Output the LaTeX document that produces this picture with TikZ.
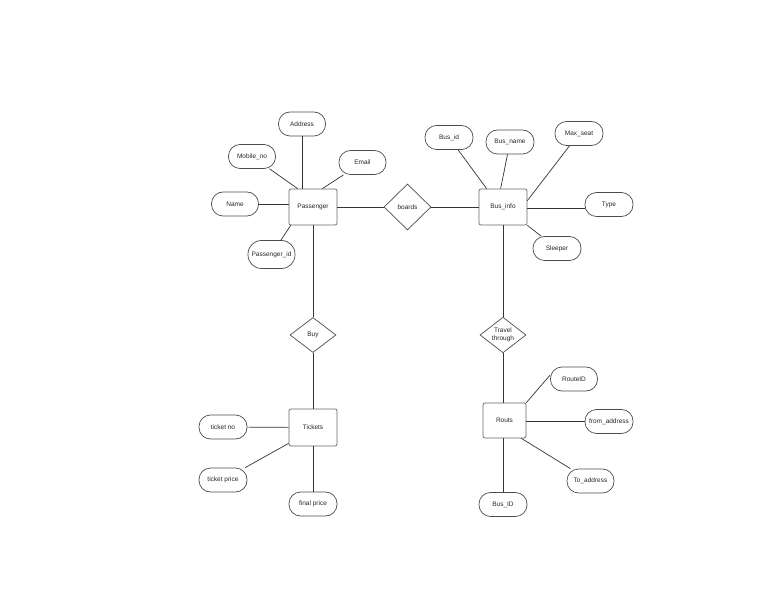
\documentclass[tikz,border=0pt]{standalone}
\usepackage{fontspec}
\setmainfont{Liberation Sans}
\usepackage{tikz}
\usetikzlibrary{shapes}

\begin{document}
\begin{tikzpicture}[x=1pt, y=-1pt, font=\fontsize{6.5}{7.5}\selectfont,
  line width=0.7pt, draw=black!80, text=black!85,
  attr/.style={draw=black!70, rectangle, rounded corners=11.5pt, minimum width=47pt, minimum height=24pt, inner sep=0pt},
  ent/.style={draw=black!60, rectangle, rounded corners=2pt, minimum width=48pt, minimum height=36pt, inner sep=0pt},
  rel/.style={draw=black!70, diamond, minimum width=46pt, minimum height=35pt, inner sep=0pt, align=center}]

\useasboundingbox (0,0) rectangle (768,593);

% passenger side
\node [ent] at (313, 207) (Pas) {Passenger};
\node [attr] at (302, 124) (Adr) {Address};
\node [attr] at (252, 156.5) (Mob) {Mobile\_no};
\node [attr] at (362.5, 162.5) (Eml) {Email};
\node [attr] at (235, 204) (Nam) {Name};
\node [attr, minimum height=28pt, rounded corners=13.5pt] at (271.5, 254.5) (Pid) {Passenger\_id};
\draw (Adr.south) -- (Adr.south |- Pas.north);
\draw (Mob) -- ([xshift=9pt]Pas.north west);
\draw (Eml) -- ([xshift=-15pt]Pas.north east);
\draw (Nam.east) -- (Nam.east -| Pas.west);
\draw (Pid) -- ([xshift=2pt]Pas.south west);

\node [rel, minimum width=47pt, minimum height=46pt] at (407.5, 207) (Brd) {boards};
\draw (Pas) -- (Brd);

% bus side
\node [ent] at (503, 207) (Bus) {Bus\_info};
\node [attr, minimum width=48pt] at (449, 137.5) (Bid) {Bus\_id};
\node [attr, minimum width=48pt] at (510, 142) (Bnm) {Bus\_name};
\node [attr, minimum width=48pt] at (579, 133.5) (Max) {Max\_seat};
\node [attr, minimum width=48pt] at (609, 204.5) (Typ) {Type};
\node [attr, minimum width=48pt] at (557, 248.5) (Slp) {Sleeper};
\draw (Brd) -- (Bus);
\draw (Bid) -- ([xshift=8pt]Bus.north west);
\draw (Bnm) -- ([xshift=22pt]Bus.north west);
\draw (Max) -- ([yshift=-12pt]Bus.north east);
\draw ([yshift=-4pt]Typ.west) -- ([yshift=-4pt]Typ.west -| Bus.east);
\draw (Slp) -- (Bus.south east);

% tickets
\node [rel] at (313, 335) (Buy) {Buy};
\node [ent, minimum height=37pt] at (313, 427.5) (Tkt) {Tickets};
\node [attr, minimum width=48pt] at (223, 427) (Tno) {ticket no};
\node [attr, minimum width=48pt] at (223, 480) (Tpr) {ticket price};
\node [attr, minimum width=48pt] at (313, 504) (Fpr) {final price};
\draw (Pas) -- (Buy);
\draw (Buy) -- (Tkt);
\draw (Tno) -- (Tkt);
\draw (Tpr) -- ([yshift=3pt]Tkt.south west);
\draw (Fpr) -- (Tkt);

% routes
\node [rel] at (503, 335) (Trv) {Travel\\through};
\node [ent, minimum width=43pt, minimum height=35pt] at (504.5, 420.5) (Rts) {Routs};
\node [attr] at (574, 379) (Rid) {RouteID};
\node [attr, minimum width=48pt] at (609, 421.5) (Fad) {from\_address};
\node [attr] at (590.5, 481) (Tad) {To\_address};
\node [attr, minimum width=48pt] at (503, 504.5) (BID) {Bus\_ID};
\draw (Bus) -- (Trv);
\draw (Trv) -- (Trv |- Rts.north);
\draw ([yshift=4pt]Rid.west) -- (Rts.north east);
\draw (Fad.west) -- (Fad.west -| Rts.east);
\draw (Tad) -- ([xshift=-5pt]Rts.south east);
\draw (BID.north) -- (BID.north |- Rts.south);

\end{tikzpicture}
\end{document}
